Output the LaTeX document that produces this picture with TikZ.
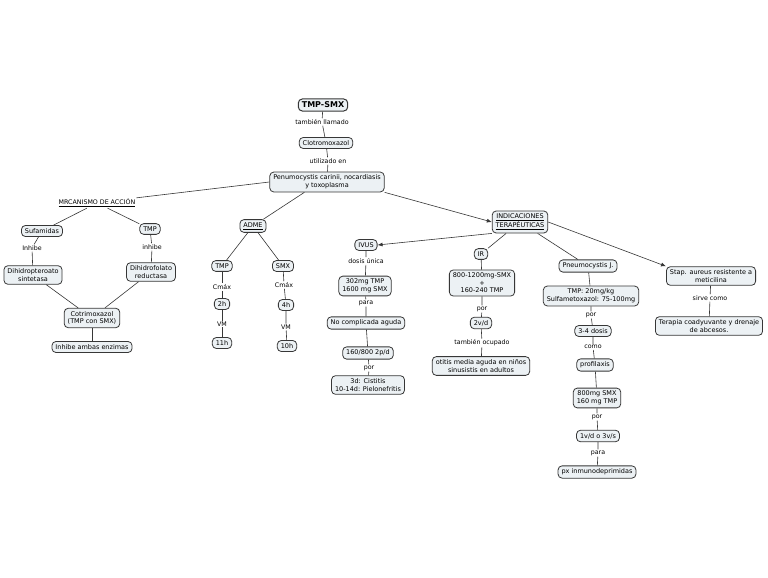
\documentclass[tikz,border=0pt]{standalone}
\usepackage{fontspec}
\setmainfont{DejaVu Sans}
\usetikzlibrary{arrows.meta}
\definecolor{boxfill}{RGB}{236,241,244}
\definecolor{edgec}{RGB}{55,55,55}
\begin{document}
\begin{tikzpicture}[x=1pt,y=-1pt,
 concept/.style={draw=edgec, line width=0.8pt, rounded corners=4pt, fill=boxfill, align=center, font=\fontsize{6.5}{7.6}\selectfont, inner xsep=3.5pt, inner ysep=3pt},
 phrase/.style={fill=white, inner sep=1pt, font=\fontsize{6.3}{7.4}\selectfont, align=center},
 link/.style={draw=edgec, line width=0.6pt},
 arr/.style={link, -{Latex[length=5pt,width=4pt]}}]
\useasboundingbox[fill=white] (0,0) rectangle (768,578);

% top
\node[concept, font=\fontsize{8}{9}\selectfont\bfseries, line width=1pt] (top) at (323,105) {TMP-SMX};
\node[phrase] (l1) at (322,122) {también llamado};
\node[concept] (clot) at (326,143) {Clotromoxazol};
\node[phrase] (l2) at (328,161) {utilizado en};
\node[concept] (pen) at (327,182) {Penumocystis carinii, nocardiasis\\y toxoplasma};

% mecanismo
\node[phrase] (mec) at (97,203) {\underline{MRCANISMO DE ACCIÓN}};
\node[concept] (sulf) at (42,231) {Sufamidas};
\node[phrase] (l3) at (32,248) {Inhibe};
\node[concept] (dhp) at (33,275) {Dihidropteroato\\sintetasa};
\node[concept] (tmpa) at (150,229) {TMP};
\node[phrase] (l4) at (152,247) {inhibe};
\node[concept] (dhf) at (151,272) {Dihidrofolato\\reductasa};
\node[concept] (cot) at (92,318) {Cotrimoxazol\\(TMP con SMX)};
\node[concept] (amb) at (92,347) {Inhibe ambas enzimas};

% ADME
\node[concept] (adme) at (253,226) {\underline{ADME}};
\node[concept] (tmpb) at (222,266) {TMP};
\node[phrase] (l5) at (222,287) {Cmáx};
\node[concept] (h2) at (222,304) {2h};
\node[phrase] (l6) at (222,324) {VM};
\node[concept] (h11) at (222,343) {11h};
\node[concept] (smx) at (283,266) {SMX};
\node[phrase] (l7) at (284,285) {Cmáx};
\node[concept] (h4) at (286,305) {4h};
\node[phrase] (l8) at (286,327) {VM};
\node[concept] (h10) at (287,346) {10h};

% indicaciones
\node[concept] (ind) at (520,222) {\underline{INDICACIONES}\\\underline{TERAPÉUTICAS}};
\node[concept] (ivus) at (366,245) {IVUS};
\node[phrase] (l9) at (366,261) {dosis única};
\node[concept] (d302) at (365,286) {302mg TMP\\1600 mg SMX};
\node[phrase] (l10) at (366,303) {para};
\node[concept] (nocomp) at (366,323) {No complicada aguda};
\node[concept] (d160) at (368,353) {160/800 2p/d};
\node[phrase] (l11) at (369,368) {por};
\node[concept] (cist) at (368,385) {3d: Cistitis\\10-14d: Pielonefritis};

\node[concept] (ir) at (481,254) {IR};
\node[concept] (d800) at (482,283) {800-1200mg-SMX\\+\\160-240 TMP};
\node[phrase] (l12) at (482,309) {por};
\node[concept] (v2d) at (481,323) {2v/d};
\node[phrase] (l13) at (482,343) {también ocupado};
\node[concept] (otit) at (481,366) {otitis media aguda en niños\\sinusistis en adultos};

\node[concept] (pnj) at (588,266) {Pneumocystis J.};
\node[concept] (tmp20) at (591,296) {TMP: 20mg/kg\\Sulfametoxazol: 75-100mg};
\node[phrase] (l14) at (591,315) {por};
\node[concept] (dos34) at (593,331) {3-4 dosis};
\node[phrase] (l15) at (593,347) {como};
\node[concept] (prof) at (595,365) {profilaxis};
\node[concept] (d800b) at (597,398) {800mg SMX\\160 mg TMP};
\node[phrase] (l16) at (597,417) {por};
\node[concept] (v1d) at (598,436) {1v/d o 3v/s};
\node[phrase] (l17) at (598,453) {para};
\node[concept] (px) at (597,472) {px inmunodeprimidas};

\node[concept] (stap) at (711,276) {Stap. aureus resistente a\\meticilina};
\node[phrase] (l18) at (710,298) {sirve como};
\node[concept] (ter) at (709,326) {Terapia coadyuvante y drenaje\\de abcesos.};

% connectors
\draw[link] (top) -- (l1) -- (clot);
\draw[link] (clot) -- (l2) -- (pen);
\draw[link] (pen.west) -- (mec.north east);
\path (pen.south west) ++(35,0) coordinate (pa);
\draw[link] (pa) -- (adme);
\draw[arr] (pen.south east) -- (ind.west);
\draw[link] (mec) -- (sulf);
\draw[link] (mec) -- (tmpa);
\draw[link] (sulf) -- (l3) -- (dhp);
\draw[link] (tmpa) -- (l4) -- (dhf);
\draw[link] (dhp) -- (cot);
\draw[link] (dhf) -- (cot);
\draw[link] (cot) -- (amb);
\draw[link] (adme) -- (tmpb);
\draw[link] (adme) -- (smx);
\draw[link] (tmpb) -- (l5) -- (h2) -- (l6) -- (h11);
\draw[link] (smx) -- (l7) -- (h4) -- (l8) -- (h10);
\draw[arr] (ind.south west) -- (ivus.east);
\draw[link] (ind) -- (ir);
\draw[link] (ind) -- (pnj);
\draw[arr] (ind.east) -- (stap.north west);
\draw[link] (ivus) -- (l9) -- (d302) -- (l10) -- (nocomp) -- (d160) -- (l11) -- (cist);
\draw[link] (ir) -- (d800) -- (l12) -- (v2d) -- (l13) -- (otit);
\draw[link] (pnj) -- (tmp20) -- (l14) -- (dos34) -- (l15) -- (prof) -- (d800b) -- (l16) -- (v1d) -- (l17) -- (px);
\draw[link] (stap) -- (l18) -- (ter);
\end{tikzpicture}
\end{document}
